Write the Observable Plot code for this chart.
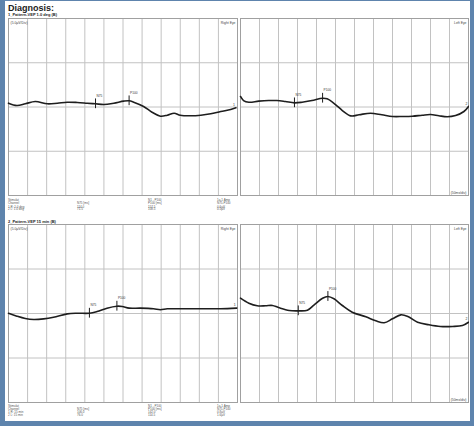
<!DOCTYPE html>
<html><head><meta charset="utf-8">
<script src="https://cdn.jsdelivr.net/npm/d3@7"></script>
<script src="https://cdn.jsdelivr.net/npm/@observablehq/plot@0.6"></script>
<style>
body{margin:0;background:#fff;font-family:"Liberation Sans",Arial,sans-serif;}
#page{position:relative;width:474px;height:426px;overflow:hidden;background:#fff;}
.abs{position:absolute;white-space:nowrap;color:#222;}
.frame{position:absolute;left:0;top:0;width:474px;height:426px;box-sizing:border-box;border-style:solid;border-color:#5e84ad;border-width:1px 4px 5px 5px;pointer-events:none;}
.panel{position:absolute;}
</style></head><body><div id="page"></div>
<script>
// ---- data (ms, µV) ----
const titleText = "Diagnosis:";
const sectionTitles = ["1_Pattern-VEP 1.0 deg (B)", "2_Pattern-VEP 15 min (B)"];
const eyeLabels = ["Right Eye", "Left Eye"];
const unitLabel = "(5.0µV/Div)";
const timebaseLabel = "(50ms/div)";
const gridTimes = [25, 50, 75, 100, 125, 150, 175, 200, 225, 250, 275];
const gridVolts = [-5, 0, 5];

const timeR1 = [0, 11, 22, 35, 51, 64, 77, 90, 103, 114, 125, 138, 151, 158, 164, 177, 188, 199, 208, 217, 225, 238, 252, 265, 278, 291, 298];
const voltR1 = [0.43, 0.17, 0.36, 0.62, 0.36, 0.43, 0.54, 0.51, 0.43, 0.36, 0.28, 0.43, 0.66, 0.70, 0.54, 0.06, -0.59, -1.04, -0.93, -0.70, -0.93, -0.99, -0.93, -0.77, -0.51, -0.28, -0.09];
const timeL1 = [0, 4, 11, 24, 37, 48, 59, 71, 81, 94, 108, 114, 125, 134, 145, 156, 171, 186, 200, 213, 226, 239, 250, 261, 272, 283, 294, 300];
const voltL1 = [1.19, 0.73, 0.54, 0.66, 0.73, 0.73, 0.62, 0.47, 0.54, 0.73, 0.99, 0.92, 0.28, -0.40, -1.00, -0.88, -0.70, -0.88, -1.07, -1.07, -1.04, -0.93, -0.85, -0.99, -1.10, -0.96, -0.51, 0.06];
const timeR2 = [0, 11, 22, 33, 46, 59, 77, 90, 106, 116, 129, 142, 149, 158, 173, 190, 199, 208, 225, 243, 260, 278, 299];
const voltR2 = [0.03, -0.30, -0.56, -0.67, -0.60, -0.42, -0.04, 0.03, 0.03, 0.22, 0.60, 0.82, 0.79, 0.60, 0.60, 0.53, 0.42, 0.53, 0.53, 0.53, 0.53, 0.53, 0.60];
const timeL2 = [0, 11, 22, 33, 42, 50, 64, 76, 88, 97, 108, 115, 123, 134, 147, 165, 178, 189, 200, 211, 221, 233, 248, 263, 279, 292, 300];
const voltL2 = [1.72, 1.16, 0.87, 0.87, 0.90, 0.67, 0.34, 0.30, 0.37, 0.98, 1.72, 1.91, 1.65, 0.90, 0.15, -0.37, -0.82, -1.04, -0.60, -0.15, -0.37, -0.98, -1.27, -1.46, -1.46, -1.35, -0.98];

const markerNames = ["N75", "P100"];
const markerTimesR1 = [114, 158], markerVoltsR1 = [0.36, 0.70];
const markerTimesL1 = [71, 108],  markerVoltsL1 = [0.47, 0.99];
const markerTimesR2 = [106, 142], markerVoltsR2 = [0.03, 0.82];
const markerTimesL2 = [76, 115],  markerVoltsL2 = [0.30, 1.91];

const tableCols = [
  [["Stimulat", "Channel", "1 R: 1.0 deg", "2 L: 1.0 deg"], ["", "N75 [ms]", "114.0", "71.5"], ["N1 - P100", "P100 [ms]", "157.5", "108.5"], ["1a-1 Amp", "N75-P100", "0.6µV", "0.5µV"]],
  [["Stimulat", "Channel", "1 R: 15 min", "2 L: 15 min"], ["", "N75 [ms]", "106.0", "76.0"], ["N1 - P100", "P100 [ms]", "142.0", "114.5"], ["1a-1 Amp", "N75-P100", "0.8µV", "1.6µV"]]
];

// ---- layout ----
const page = document.getElementById("page");
const FONT = '"Liberation Sans", Arial, sans-serif';
function addText(txt, x, cy, size, weight, color) {
  const d = document.createElement("div");
  d.className = "abs";
  d.textContent = txt;
  d.style.left = x + "px";
  d.style.top = (cy - size / 2) + "px";
  d.style.fontSize = size + "px";
  d.style.lineHeight = size + "px";
  d.style.fontWeight = weight || "normal";
  if (color) d.style.color = color;
  page.appendChild(d);
}

function panel(times, volts, mT, mV, eye, endLabel, isLeftEye, w, h) {
  const trace = times.map((t, i) => ({t, v: volts[i]}));
  const marks = mT.map((t, i) => ({t, v: mV[i], name: markerNames[i]}));
  const last = trace[trace.length - 1];
  return Plot.plot({
    width: w + 2, height: h + 2, margin: 1,
    x: {domain: [0, 300], axis: null},
    y: {domain: [-10, 10], axis: null},
    style: {fontFamily: FONT, background: "transparent", color: "#333"},
    marks: [
      Plot.ruleX(gridTimes, {stroke: "#c2c2c2", strokeWidth: 1}),
      Plot.ruleY(gridVolts, {stroke: "#c2c2c2", strokeWidth: 1}),
      Plot.frame({stroke: "#a0a0a0"}),
      isLeftEye ? null : Plot.text([unitLabel], {text: d => d, frameAnchor: "top-left", dx: 2, dy: 3, fontSize: 3.4, fill: "#444"}),
      Plot.text([eye], {text: d => d, frameAnchor: "top-right", dx: -2, dy: 3, fontSize: 3.4, fill: "#444"}),
      isLeftEye ? Plot.text([timebaseLabel], {text: d => d, frameAnchor: "bottom-right", dx: -2, dy: -2, fontSize: 3.4, fill: "#444"}) : null,
      Plot.line(trace, {x: "t", y: "v", curve: "catmull-rom", stroke: "#1e1e1e", strokeWidth: 1.6}),
      Plot.ruleX(marks, {x: "t", y1: d => d.v - 0.55, y2: d => d.v + 0.55, stroke: "#1e1e1e", strokeWidth: 1}),
      Plot.text(marks, {x: "t", y: "v", text: "name", dx: 1, dy: -8, textAnchor: "start", fontSize: 3.2, fill: "#333"}),
      Plot.text([last], {x: "t", y: "v", text: () => endLabel, dx: -2, dy: -3, fontSize: 3.4, fill: "#333"})
    ]
  });
}

function place(svg, x0, y0) {
  const d = document.createElement("div");
  d.className = "panel";
  d.style.left = (x0 - 1) + "px";
  d.style.top = (y0 - 1) + "px";
  d.appendChild(svg);
  page.appendChild(d);
}

addText(titleText, 8, 8.5, 9, "bold");
addText(sectionTitles[0], 8, 15, 4, "bold");
addText(sectionTitles[1], 8, 221.5, 4, "bold");

place(panel(timeR1, voltR1, markerTimesR1, markerVoltsR1, eyeLabels[0], "1", false, 229, 177), 8, 18);
place(panel(timeL1, voltL1, markerTimesL1, markerVoltsL1, eyeLabels[1], "2", true, 228, 177), 240, 18);
place(panel(timeR2, voltR2, markerTimesR2, markerVoltsR2, eyeLabels[0], "1", false, 229, 178), 8, 224);
place(panel(timeL2, voltL2, markerTimesL2, markerVoltsL2, eyeLabels[1], "2", true, 228, 178), 240, 224);

const colX = [8, 77, 148, 217];
const rowY1 = [200.5, 203.3, 207, 209.8];
const rowY2 = [406.3, 409, 412.3, 415];
[rowY1, rowY2].forEach((rows, k) => {
  tableCols[k].forEach((col, c) => col.forEach((txt, r) => {
    if (txt) addText(txt, colX[c], rows[r], 3, "normal", "#555");
  }));
});

const fr = document.createElement("div");
fr.className = "frame";
page.appendChild(fr);
</script>
</body></html>
